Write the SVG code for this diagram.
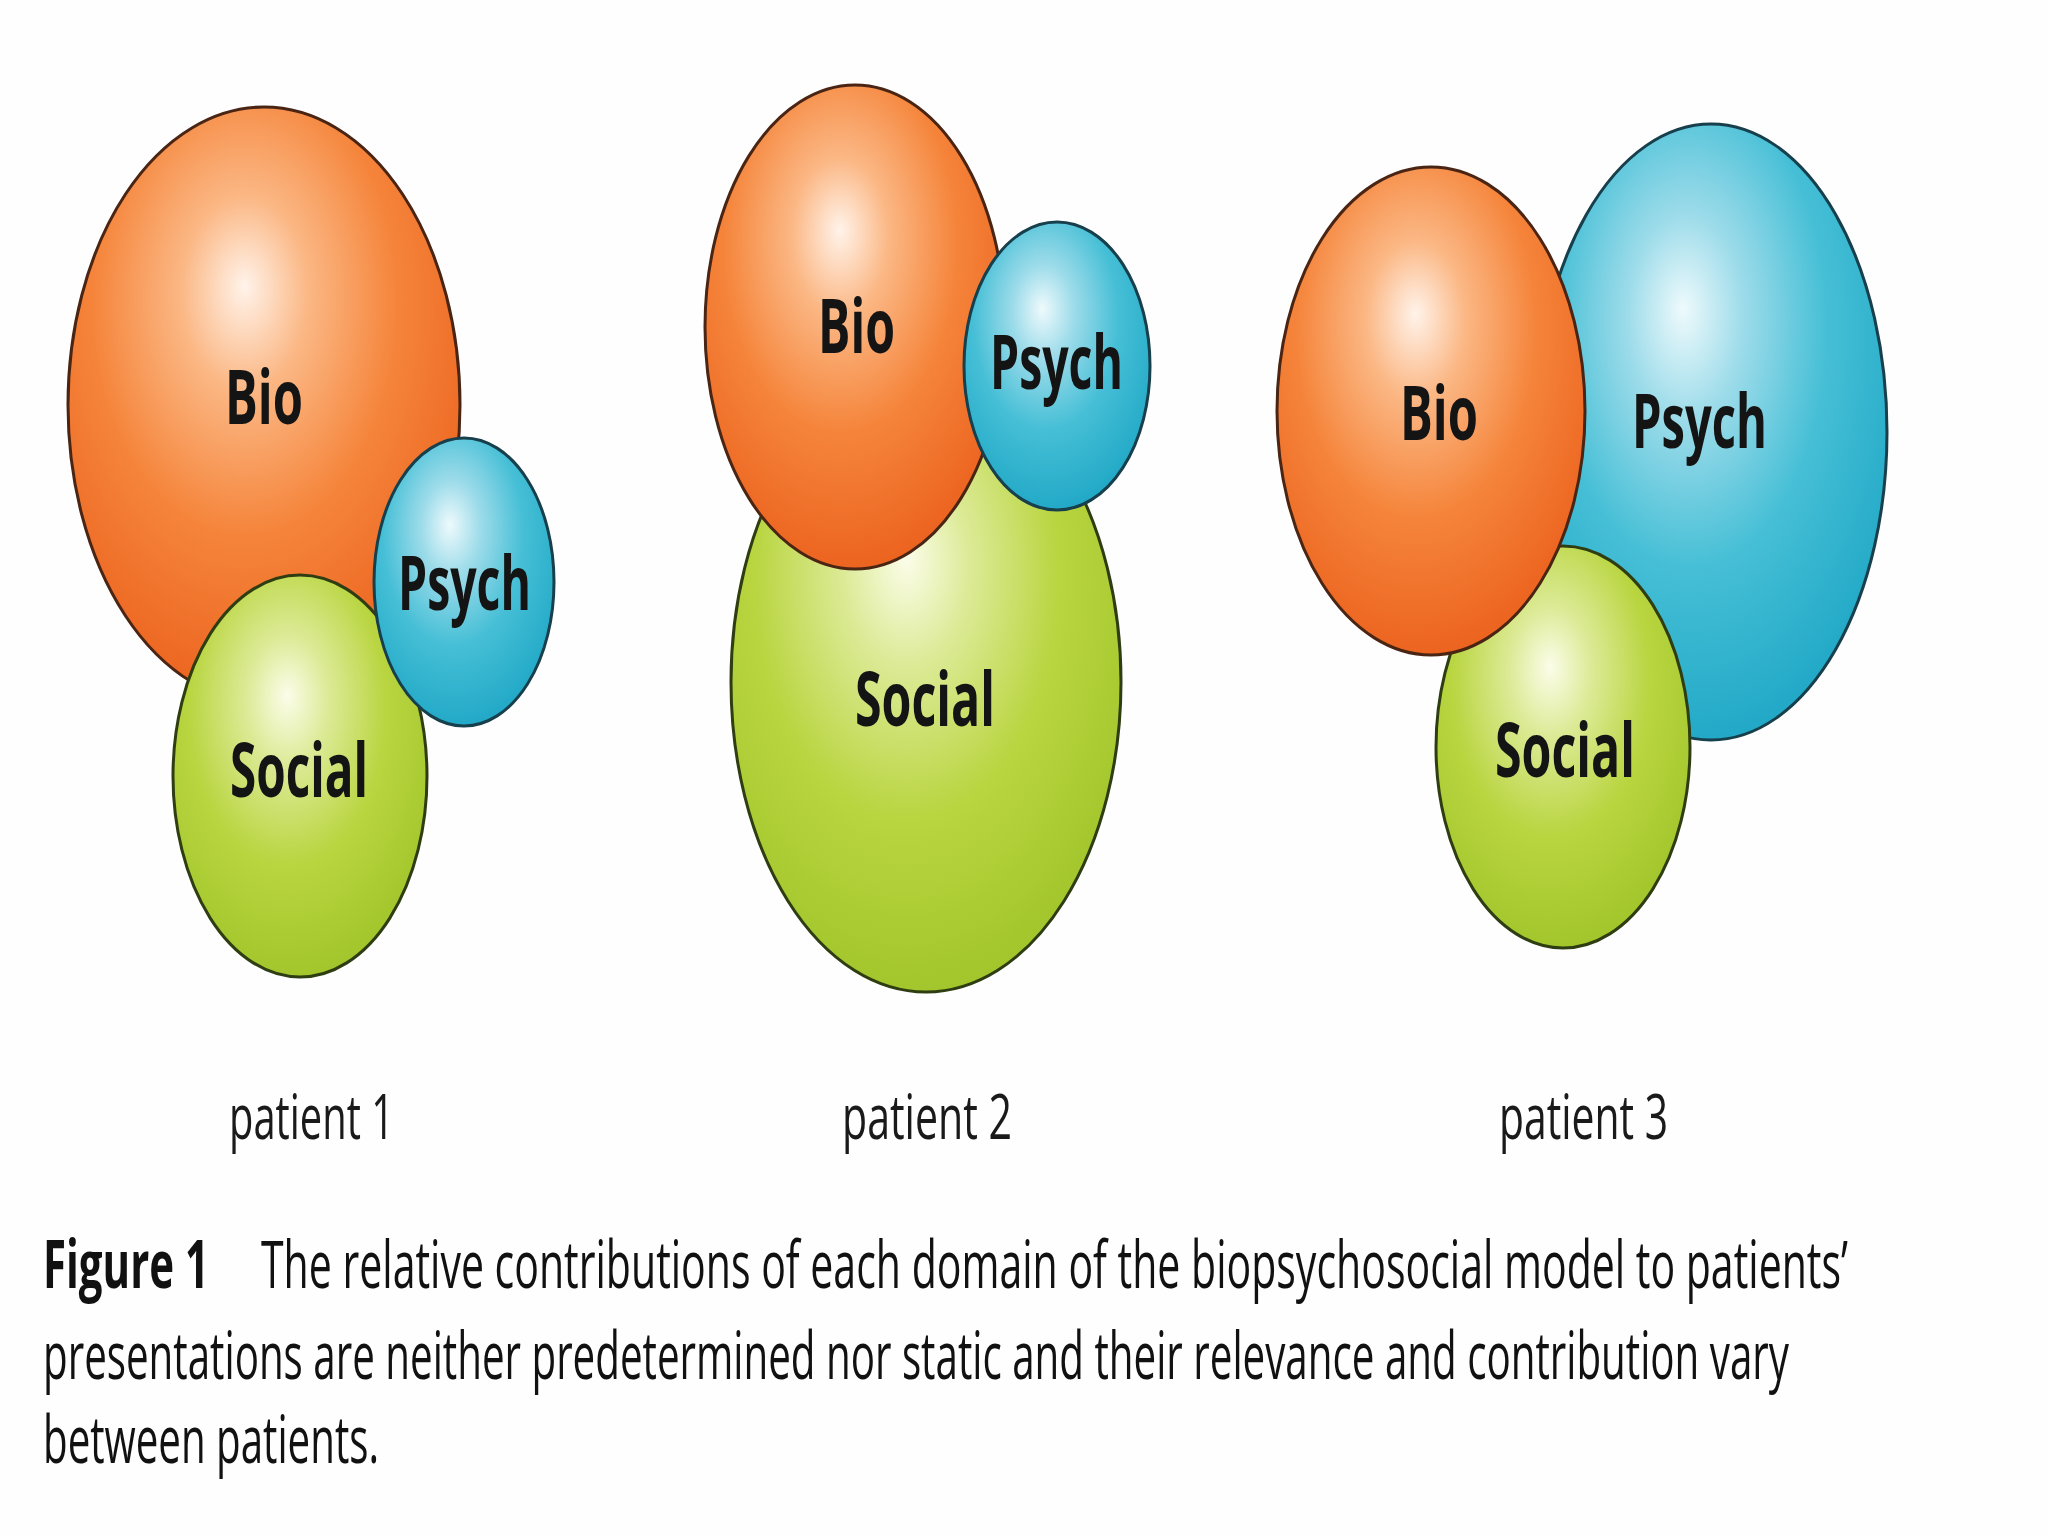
<svg xmlns="http://www.w3.org/2000/svg" width="2048" height="1536" viewBox="0 0 2048 1536">
<defs>
<radialGradient id="gOrange" cx="0.45" cy="0.35" r="0.65" fx="0.45" fy="0.3">
<stop offset="0" stop-color="#fff3ea"/>
<stop offset="0.25" stop-color="#fbb784"/>
<stop offset="0.6" stop-color="#f5843a"/>
<stop offset="1" stop-color="#ec6420"/>
</radialGradient>
<radialGradient id="gBlue" cx="0.45" cy="0.35" r="0.65" fx="0.42" fy="0.3">
<stop offset="0" stop-color="#eefafc"/>
<stop offset="0.25" stop-color="#9edcea"/>
<stop offset="0.6" stop-color="#46bfd6"/>
<stop offset="1" stop-color="#22a9c7"/>
</radialGradient>
<radialGradient id="gGreen" cx="0.45" cy="0.35" r="0.65" fx="0.45" fy="0.3">
<stop offset="0" stop-color="#fbfde9"/>
<stop offset="0.25" stop-color="#dcea96"/>
<stop offset="0.6" stop-color="#b9d540"/>
<stop offset="1" stop-color="#a3c62c"/>
</radialGradient>
</defs>
<style>
.bio{fill:url(#gOrange);stroke:#4a2514;stroke-width:3}
.psy{fill:url(#gBlue);stroke:#173f4c;stroke-width:3}
.soc{fill:url(#gGreen);stroke:#2f3d12;stroke-width:3}
.lbl{font-family:"Open Sans","Liberation Sans",sans-serif;font-weight:700;font-size:50px;fill:#141414}
.pat{font-family:"Open Sans","Liberation Sans",sans-serif;font-weight:400;font-size:41px;fill:#1a1a1a}
.cap{font-family:"Open Sans","Liberation Sans",sans-serif;font-weight:400;font-size:43.5px;fill:#111}
.capb{font-weight:700}
</style>
<rect width="2048" height="1536" fill="#fefefe"/>
<g id="connectors"/>

<!-- Patient 1 -->
<g id="p1-bio"><ellipse class="bio" cx="264" cy="405" rx="196" ry="298"/></g>
<g id="p1-social"><ellipse class="soc" cx="300" cy="776" rx="127" ry="201"/></g>
<g id="p1-psych"><ellipse class="psy" cx="464" cy="582" rx="90" ry="144"/></g>
<text class="lbl" transform="translate(225 424) scale(1 1.52)" textLength="78" lengthAdjust="spacingAndGlyphs">Bio</text>
<text class="lbl" transform="translate(398 610) scale(1 1.52)" textLength="133" lengthAdjust="spacingAndGlyphs">Psych</text>
<text class="lbl" transform="translate(230 797) scale(1 1.52)" textLength="138" lengthAdjust="spacingAndGlyphs">Social</text>

<!-- Patient 2 -->
<g id="p2-social"><ellipse class="soc" cx="926" cy="682" rx="195" ry="310"/></g>
<g id="p2-bio"><ellipse class="bio" cx="855" cy="327" rx="150" ry="242"/></g>
<g id="p2-psych"><ellipse class="psy" cx="1057" cy="366" rx="93" ry="144"/></g>
<text class="lbl" transform="translate(818 353) scale(1 1.52)" textLength="77" lengthAdjust="spacingAndGlyphs">Bio</text>
<text class="lbl" transform="translate(990 389) scale(1 1.52)" textLength="133" lengthAdjust="spacingAndGlyphs">Psych</text>
<text class="lbl" transform="translate(855 726) scale(1 1.52)" textLength="140" lengthAdjust="spacingAndGlyphs">Social</text>

<!-- Patient 3 -->
<g id="p3-psych"><ellipse class="psy" cx="1711" cy="432" rx="176" ry="308"/></g>
<g id="p3-social"><ellipse class="soc" cx="1563" cy="747" rx="127" ry="201"/></g>
<g id="p3-bio"><ellipse class="bio" cx="1431" cy="411" rx="154" ry="244"/></g>
<text class="lbl" transform="translate(1400 440) scale(1 1.52)" textLength="78" lengthAdjust="spacingAndGlyphs">Bio</text>
<text class="lbl" transform="translate(1632 448) scale(1 1.52)" textLength="135" lengthAdjust="spacingAndGlyphs">Psych</text>
<text class="lbl" transform="translate(1495 777) scale(1 1.52)" textLength="140" lengthAdjust="spacingAndGlyphs">Social</text>

<!-- Patient labels -->
<text class="pat" transform="translate(229 1139) scale(1 1.52)" textLength="165" lengthAdjust="spacingAndGlyphs">patient 1</text>
<text class="pat" transform="translate(842 1139) scale(1 1.52)" textLength="170" lengthAdjust="spacingAndGlyphs">patient 2</text>
<text class="pat" transform="translate(1499 1139) scale(1 1.52)" textLength="169" lengthAdjust="spacingAndGlyphs">patient 3</text>

<!-- Caption -->
<text class="cap capb" transform="translate(43 1288) scale(1 1.52)" textLength="166" lengthAdjust="spacingAndGlyphs">Figure 1</text>
<text class="cap" transform="translate(261 1288) scale(1 1.52)" textLength="1587" lengthAdjust="spacingAndGlyphs">The relative contributions of each domain of the biopsychosocial model to patients’</text>
<text class="cap" transform="translate(43 1379) scale(1 1.52)" textLength="1746" lengthAdjust="spacingAndGlyphs">presentations are neither predetermined nor static and their relevance and contribution vary</text>
<text class="cap" transform="translate(43 1463) scale(1 1.52)" textLength="336" lengthAdjust="spacingAndGlyphs">between patients.</text>
</svg>
